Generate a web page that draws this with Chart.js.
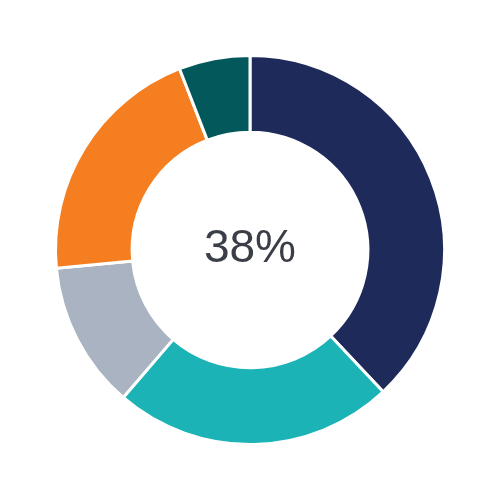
<!DOCTYPE html>
<html>
<head>
<meta charset="utf-8">
<script src="https://cdn.jsdelivr.net/npm/chart.js@4"></script>
<style>
html,body{margin:0;padding:0;background:#fff;}
#wrap{position:relative;width:500px;height:500px;}
#center{position:absolute;left:0;top:-4px;width:500px;height:500px;display:flex;align-items:center;justify-content:center;font-family:"Liberation Sans",Arial,sans-serif;font-size:46px;color:#3a3f47;pointer-events:none;}
</style>
</head>
<body>
<div id="wrap"><canvas id="c" width="500" height="500"></canvas><div id="center">38%</div></div>
<script>
const categories = ["Segment A", "Segment B", "Segment C", "Segment D", "Segment E"];
const values = [38, 23.3, 12.2, 20.6, 5.9];
const colors = ["#1e2b5a", "#1bb3b5", "#a9b3c1", "#f47e20", "#02585a"];
const centerLabel = "38%";
document.getElementById('center').textContent = centerLabel;
new Chart(document.getElementById('c'), {
  type: 'doughnut',
  data: {
    labels: categories,
    datasets: [{
      data: values,
      backgroundColor: colors,
      borderColor: '#ffffff',
      borderWidth: 3
    }]
  },
  options: {
    responsive: false,
    animation: false,
    cutout: '60.6%',
    layout: { padding: 54 },
    plugins: { legend: { display: false }, tooltip: { enabled: false } }
  }
});
</script>
</body>
</html>
